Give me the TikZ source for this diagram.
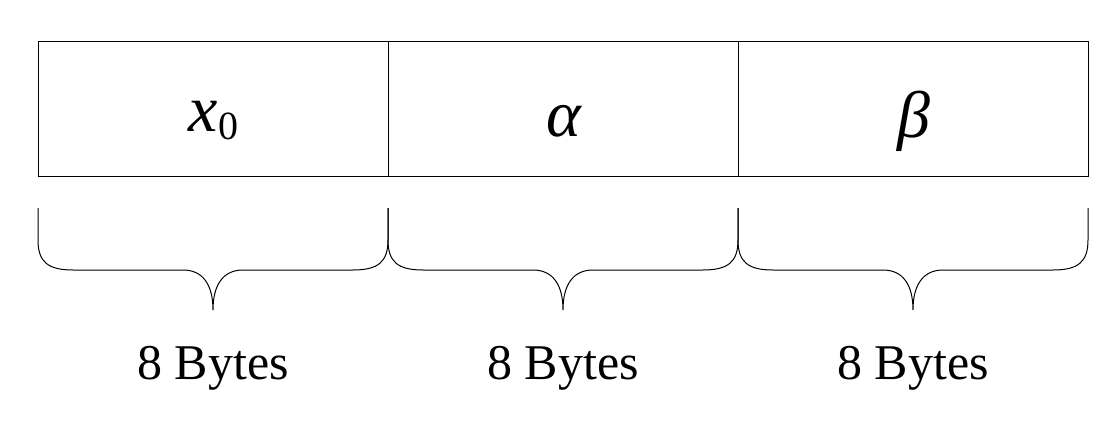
\documentclass[tikz,border=0pt]{standalone}
\usepackage{fontspec}
\setmainfont{Liberation Serif}
\begin{document}
\begin{tikzpicture}[x=1pt,y=-1pt,
  cell/.style={draw,line width=1pt,minimum width=350pt,minimum height=135pt,inner sep=0pt,anchor=north west},
  sym/.style={font=\fontsize{66}{70}\selectfont\itshape},
  lab/.style={font=\fontsize{50}{60}\selectfont},
  br/.style={line width=1pt}]
\useasboundingbox (0,0) rectangle (1119,423);
\node[cell] (a) at (38,41) {};
\node[cell] (b) at (388,41) {};
\node[cell] (c) at (738,41) {};
\node[sym] (ta) at ([yshift=-12pt]a.center) {x\raisebox{-8pt}{\upshape\fontsize{40}{44}\selectfont 0}};
\node[sym] (tb) at ([yshift=-12pt]b.center) {α};
\node[sym] (tc) at ([yshift=-12pt]c.center) {β};
\foreach \L/\n in {38/a,388/b,738/c}{
  \pgfmathsetmacro\R{\L+350}\pgfmathsetmacro\M{\L+175}
  \draw[br] (\L,208) -- (\L,240) .. controls (\L,262) and (\L+10,270) .. (\L+35,270) -- (\M-30,270) .. controls (\M-10,270) and (\M,285) .. (\M,310) .. controls (\M,285) and (\M+10,270) .. (\M+30,270) -- (\R-35,270) .. controls (\R-10,270) and (\R,262) .. (\R,240) -- (\R,208);
  \node[lab] (l\n) at (\M,368) {8 Bytes};
}
\end{tikzpicture}
\end{document}
